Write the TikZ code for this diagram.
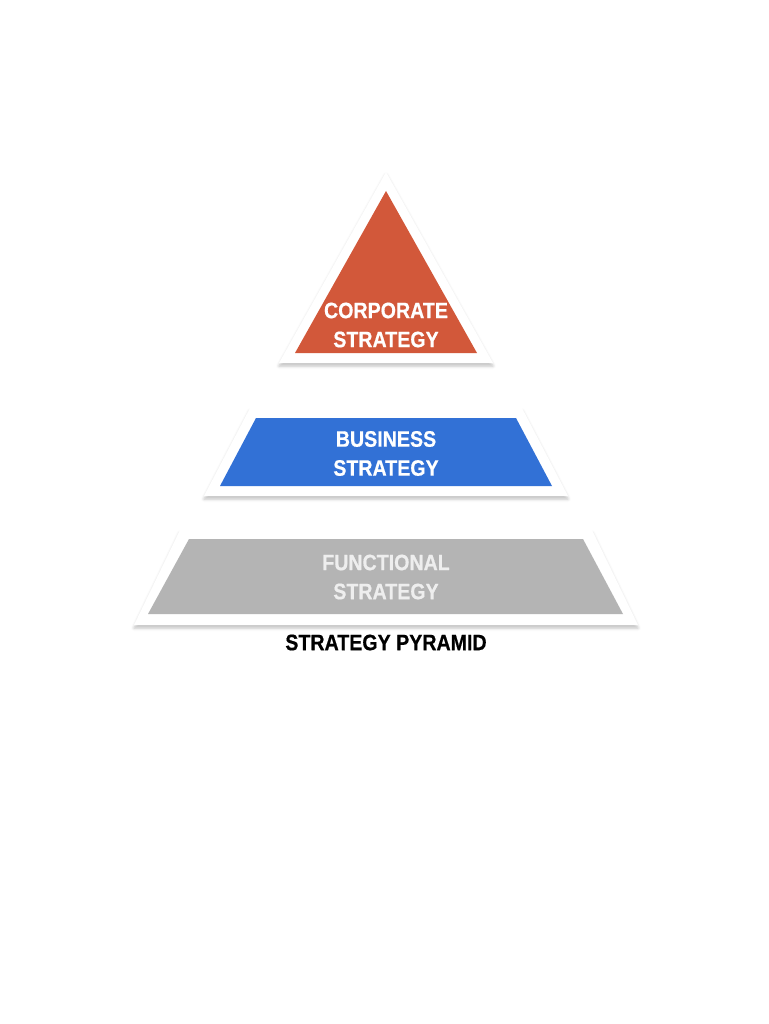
\documentclass[tikz,border=0pt]{standalone}
\usepackage{fontspec}
\newfontfamily\pyrfont{Liberation Sans}[FakeStretch=0.88,BoldFeatures={FakeBold=0.6}]
\usetikzlibrary{shadows.blur}
\definecolor{corpred}{HTML}{D2583A}
\definecolor{busblue}{HTML}{3271D6}
\definecolor{funcgrey}{HTML}{B4B4B4}
\definecolor{functext}{HTML}{EEEEEE}
\tikzset{
  frame/.style={fill=white,blur shadow={shadow xshift=0pt,shadow yshift=-3pt,shadow blur radius=3pt,shadow opacity=25}},
  label/.style={align=center,font=\pyrfont\bfseries\fontsize{22.3}{29}\selectfont}
}
\begin{document}
\begin{tikzpicture}[x=1pt,y=-1pt]
                \useasboundingbox (0,0) rectangle (768,1024);
                % top layer
                \path[frame] (386,172)--(493,363)--(279,363)--cycle;
                \fill[corpred] (386,191)--(477,353)--(295,353)--cycle;
                \node[label,text=white] (corp) at (386,325) {CORPORATE\\STRATEGY};
                % middle layer
                \path[frame] (250,408)--(522,408)--(568,496)--(204,496)--cycle;
                \fill[busblue] (256,418)--(516,418)--(552,486)--(220,486)--cycle;
                \node[label,text=white] (bus) at (386,453.5) {BUSINESS\\STRATEGY};
                % bottom layer
                \path[frame] (180,530)--(592,530)--(638,625)--(134,625)--cycle;
                \fill[funcgrey] (189,539)--(583,539)--(623,614)--(148,614)--cycle;
                \node[label,text=functext] (func) at (386,577) {FUNCTIONAL\\STRATEGY};
                % title
                \node[label,text=black] (title) at (386,642.5) {STRATEGY PYRAMID};
            \end{tikzpicture}
\end{document}
